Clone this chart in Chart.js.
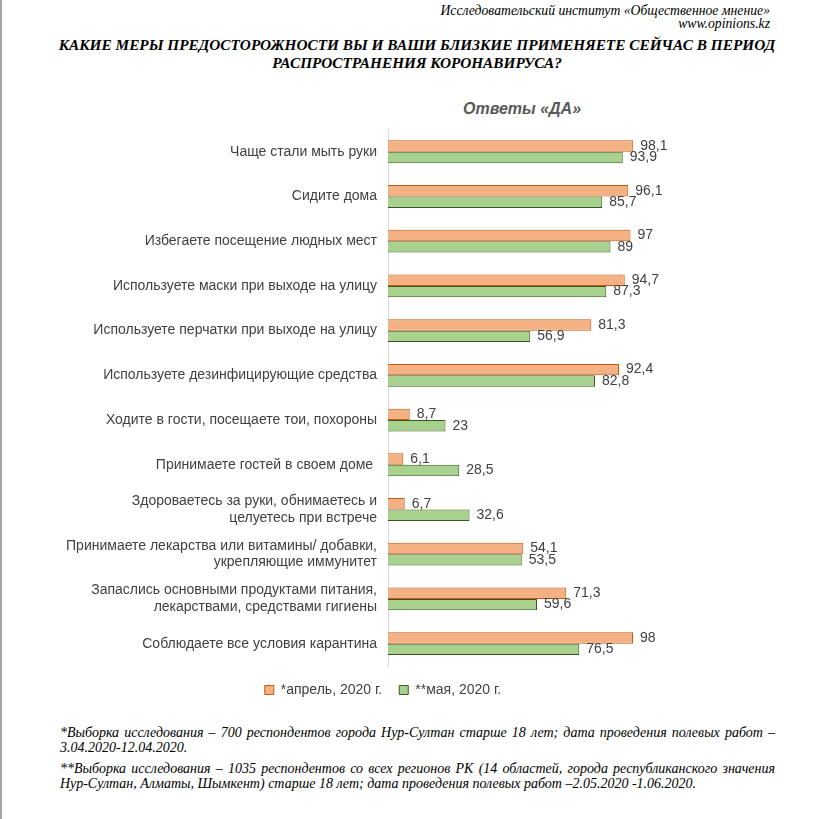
<!DOCTYPE html>
<html lang="ru">
<head>
<meta charset="utf-8">
<script src="https://cdn.jsdelivr.net/npm/chart.js@4/dist/chart.umd.min.js"></script>
<style>
  html, body { margin: 0; padding: 0; background: #fff; }
  body { width: 819px; height: 819px; position: relative; overflow: hidden; }
  .rama { position: absolute; left: 0; top: 0; width: 2px; height: 819px; background: #a6a6a6; }
  .serif { font-family: "Liberation Serif", "Times New Roman", serif; font-style: italic; color: #000; position: absolute; }
  .inst { right: 49px; top: 3px; font-size: 13.7px; }
  .web { right: 49px; top: 16px; font-size: 13.7px; }
  .titulo { left: 47px; width: 740px; top: 36px; font-size: 15.3px; font-weight: bold; text-align: center; line-height: 18px; }
  .respuestas { position: absolute; left: 440px; width: 164px; top: 100px; text-align: center;
    font-family: "Liberation Sans", Arial, sans-serif; font-weight: bold; font-style: italic; font-size: 16px; color: #595959; }
  .nota { left: 60px; width: 715px; font-size: 14px; line-height: 15px; text-align: justify; }
  .just { text-align-last: justify; }
  #caja { position: absolute; left: 0; top: 110px; width: 766px; height: 597px; }
</style>
</head>
<body>
<div class="rama"></div>
<div class="serif inst">Исследовательский институт «Общественное мнение»</div>
<div class="serif web">www.opinions.kz</div>
<div class="serif titulo">КАКИЕ МЕРЫ ПРЕДОСТОРОЖНОСТИ ВЫ И ВАШИ БЛИЗКИЕ ПРИМЕНЯЕТЕ СЕЙЧАС В ПЕРИОД<br>РАСПРОСТРАНЕНИЯ КОРОНАВИРУСА?</div>
<div class="respuestas">Ответы «ДА»</div>

<div id="caja"><canvas id="grafica"></canvas></div>

<div class="serif nota just" style="top:725px">*Выборка исследования – 700 респондентов города Нур-Султан старше 18 лет; дата проведения полевых работ –</div>
<div class="serif nota" style="top:740px">3.04.2020-12.04.2020.</div>
<div class="serif nota just" style="top:761px">**Выборка исследования – 1035 респондентов со всех регионов РК (14 областей, города республиканского значения</div>
<div class="serif nota" style="top:776px">Нур-Султан, Алматы, Шымкент) старше 18 лет; дата проведения полевых работ –2.05.2020 -1.06.2020.</div>

<script>
// Меры предосторожности (категории)
const medidas = [
    "Чаще стали мыть руки",
    "Сидите дома",
    "Избегаете посещение людных мест",
    "Используете маски при выходе на улицу",
    "Используете перчатки при выходе на улицу",
    "Используете дезинфицирующие средства",
    "Ходите в гости, посещаете тои, похороны",
    "Принимаете гостей в своем доме ",
    ["Здороваетесь за руки, обнимаетесь и", "целуетесь при встрече"],
    ["Принимаете лекарства или витамины/ добавки,", "укрепляющие иммунитет"],
    ["Запаслись основными продуктами питания,", "лекарствами, средствами гигиены"],
    "Соблюдаете все условия карантина"
];

// Ответы «ДА», %
const abril = [98.1, 96.1, 97, 94.7, 81.3, 92.4, 8.7, 6.1, 6.7, 54.1, 71.3, 98];
const mayo = [93.9, 85.7, 89, 87.3, 56.9, 82.8, 23, 28.5, 32.6, 53.5, 59.6, 76.5];

const nombresSeries = ["*апрель, 2020 г.", "**мая, 2020 г."];

const fuente = "'Liberation Sans', Arial, sans-serif";

// Подписи значений справа от столбиков (десятичная запятая)
const etiquetasValores = {
    id: "etiquetasValores",
    afterDatasetsDraw(chart) {
        const ctx = chart.ctx;
        ctx.save();
        ctx.font = "14px " + fuente;
        ctx.fillStyle = "#404040";
        ctx.textAlign = "left";
        ctx.textBaseline = "middle";
        chart.data.datasets.forEach((ds, i) => {
            chart.getDatasetMeta(i).data.forEach((bar, j) => {
                const texto = String(ds.data[j]).replace(".", ",");
                ctx.fillText(texto, bar.x + 7, bar.y);
            });
        });
        ctx.restore();
    }
};

new Chart(document.getElementById("grafica"), {
    type: "bar",
    data: {
        labels: medidas,
        datasets: [
            {
                label: nombresSeries[0],
                data: abril,
                backgroundColor: "#f4b183",
                borderColor: "#c55a11",
                borderWidth: 1,
                borderSkipped: "left"
            },
            {
                label: nombresSeries[1],
                data: mayo,
                backgroundColor: "#a9d18e",
                borderColor: "#385723",
                borderWidth: 1,
                borderSkipped: "left"
            }
        ]
    },
    options: {
        indexAxis: "y",
        responsive: true,
        maintainAspectRatio: false,
        animation: false,
        categoryPercentage: 0.51,
        barPercentage: 1,
        layout: { padding: { top: 8, right: 0, bottom: 0, left: 0 } },
        scales: {
            x: { display: false, min: 0, max: 100 },
            y: {
                grid: { display: false, drawTicks: false },
                border: { display: true, color: "#d9d9d9", width: 1 },
                ticks: {
                    color: "#404040",
                    padding: 11,
                    font: { family: fuente, size: 14, lineHeight: 1.2 }
                },
                afterFit(scale) { scale.width = 388; }
            },
            // пустая ось справа: место под подписи значений
            derecha: {
                type: "category",
                position: "right",
                grid: { display: false, drawTicks: false },
                border: { display: false },
                ticks: { display: false },
                afterFit(scale) { scale.width = 128; }
            }
        },
        plugins: {
            legend: {
                position: "bottom",
                labels: {
                    boxWidth: 9,
                    boxHeight: 9,
                    padding: 17,
                    color: "#404040",
                    font: { family: fuente, size: 14 }
                }
            },
            tooltip: { enabled: false }
        }
    },
    plugins: [etiquetasValores]
});
</script>
</body>
</html>
